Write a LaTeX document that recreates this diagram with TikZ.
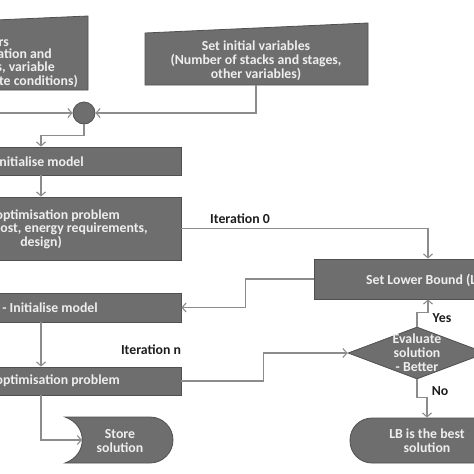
\documentclass[tikz,border=0pt]{standalone}
\usepackage{fontspec}
\setmainfont{Carlito}
\usetikzlibrary{arrows.meta,shapes.geometric}
\definecolor{boxfill}{HTML}{6E6E6E}
\definecolor{boxline}{HTML}{505050}
\definecolor{boxtext}{HTML}{EEEEEE}
\definecolor{conncol}{HTML}{8C8C8C}
\definecolor{labcol}{HTML}{1E1E1E}
\begin{document}
\begin{tikzpicture}[x=1pt,y=-1pt,
  shapestyle/.style={draw=boxline,fill=boxfill,line width=0.8pt},
  box/.style={shapestyle,inner sep=0pt,minimum width=280pt},
  txt/.style={text=boxtext,font=\fontsize{13.8}{14}\selectfont\bfseries,inner sep=0pt,align=center},
  thinline/.style={txt,text height=8pt,text depth=2pt},
  lab/.style={text=labcol,font=\fontsize{13.8}{15}\selectfont\bfseries,inner sep=0pt},
  conn/.style={draw=conncol,line width=1.1pt,-{Straight Barb[length=4pt,width=9pt]}},
  plainline/.style={draw=conncol,line width=1.1pt}]
\useasboundingbox (0,0) rectangle (474,474);
\clip (0,0) rectangle (474,474);
\fill[white] (0,0) rectangle (474,474);
% top-left manual input
\draw[shapestyle] (-120,25) -- (88,16) -- (88,90) -- (-120,90) -- cycle;
\coordinate (tlb) at (-30,90);
\node[thinline,anchor=east] (tl1) at (9,43) {rs};
\node[thinline,anchor=east] (tl2) at (52,55) {ation and};
\node[thinline,anchor=east] (tl3) at (55,68) {s, variable};
\node[thinline,anchor=east] (tl4) at (78,82) {te conditions)};
% top-right manual input
\draw[shapestyle] (145,33) -- (368,23) -- (368,85) -- (145,85) -- cycle;
\coordinate (setvarb) at (256,85);
\node[txt] (setvar) at (256,61) {Set initial variables\\(Number of stacks and stages,\\other variables)};
% junction
\node[shapestyle,circle,minimum size=22pt,inner sep=0pt] (circ) at (84,113) {};
% left column
\node[box,minimum height=28pt] (init1) at (41,161) {};
\node[txt,anchor=east] (init1t) at (84,162) {nitialise model};
\node[box,minimum height=63pt] (opt1) at (41,228.5) {};
\node[thinline,anchor=east] (opt1a) at (120,216) {optimisation problem};
\node[thinline,anchor=east] (opt1b) at (148,229) {(cost, energy requirements,};
\node[thinline,anchor=east] (opt1c) at (62,243) {design)};
\node[box,minimum height=29pt] (init2) at (41,307.5) {};
\node[txt,anchor=east] (init2t) at (98,308) {- Initialise model};
\node[box,minimum height=28pt] (opt2) at (41,381) {};
\node[txt,anchor=east] (opt2t) at (120,381) {optimisation problem};
% store solution
\draw[shapestyle] (65,417) -- (150,417) .. controls (162.7,417) and (173,427.3) .. (173,440)
  .. controls (173,452.7) and (162.7,463) .. (150,463) -- (65,463)
  .. controls (88,455) and (88,425) .. (65,417) -- cycle;
\coordinate (storein) at (82,440);
\node[txt] (store) at (120,441) {Store\\solution};
% right column
\node[shapestyle,inner sep=0pt,minimum width=228pt,minimum height=40pt] (lb) at (428,279) {};
\node[txt,anchor=west] (lbt) at (366,280) {Set Lower Bound (LB)};
\node[shapestyle,diamond,inner sep=0pt,minimum width=138pt,minimum height=52pt] (dia) at (417,353) {};
\node[txt] (diat) at (417,353) {Evaluate\\solution\\- Better};
\node[shapestyle,rounded corners=22pt,inner sep=0pt,minimum width=154pt,minimum height=45pt] (best) at (427,440.5) {};
\node[txt] (bestt) at (427,441) {LB is the best\\solution};
% connectors
\draw[conn] (tlb) |- (circ.west);
\draw[conn] (setvarb) |- (circ.east);
\draw[conn] (circ.south) -- ++(0,11) -| (init1.north);
\draw[conn] (init1.south) -- (opt1.north);
\draw[conn] (opt1.east) -| (lb.north);
\node[lab] (it0) at (240,219) {Iteration 0};
\draw[conn] (lb.west) -- ++(-68,0) |- (init2.east);
\draw[conn] (init2.south) -- (opt2.north);
\draw[conn] (opt2.east) -- ++(82,0) |- (dia.west);
\node[lab] (itn) at (151,350) {Iteration n};
\draw[conn] (dia.north) -- ++(0,-14) -| (lb.south);
\node[lab] (yes) at (442,318) {Yes};
\draw[conn] (dia.south) -- ++(0,18) -| (best.north);
\node[lab] (no) at (440,391) {No};
\draw[conn] (opt2.south) |- (storein);
\end{tikzpicture}
\end{document}
